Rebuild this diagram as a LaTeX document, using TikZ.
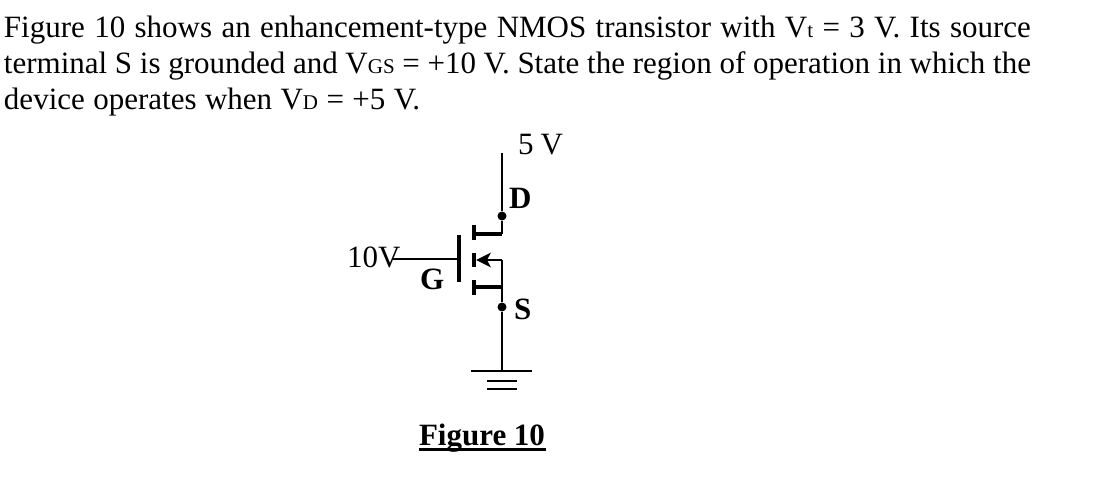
\documentclass[tikz,border=0pt]{standalone}
\usepackage{fontspec}
\setmainfont{Liberation Serif}
\newcommand{\lab}[1]{{\fontsize{21}{21}\selectfont #1}}
\begin{document}
\begin{tikzpicture}[x=1pt,y=-1pt,
  txt/.style={anchor=base west,inner sep=0pt,outer sep=0pt,font=\fontsize{31}{36}\selectfont},
  bold/.style={anchor=base west,inner sep=0pt,outer sep=0pt,font=\fontsize{31}{36}\selectfont\bfseries},
  wire/.style={line width=2pt,draw=black},
  thickwire/.style={line width=3.2pt,draw=black},
  bar/.style={line width=3.8pt,draw=black},
  pin/.style={circle,fill=black,inner sep=0pt,minimum size=9pt}]
\useasboundingbox (0,0) rectangle (1114,481);
\fill[white] (0,0) rectangle (1114,481);
\node[txt] (l1) at (4,38) {\hbox to 1027pt{Figure 10 shows an enhancement-type NMOS transistor with V\lab{t} = 3 V. Its source}};
\node[txt] (l2) at (4,74) {\hbox to 1027pt{terminal S is grounded and V\lab{GS} = +10 V. State the region of operation in which the}};
\node[txt] (l3) at (4,110) {\hbox to 416pt{device operates when V\lab{D} = +5 V.}};
\node[txt] (vdd) at (518,155) {\hbox to 45pt{5 V}};
\node[bold] (dl) at (509,209) {D};
\node[bold] (gl) at (420,290) {G};
\node[bold] (sl) at (514,319) {S};
\node[txt] (vg) at (347,267) {10V};
\node[bold] (cap) at (419,445) {Figure 10};
\coordinate (ul0) at (419,449.5);
\coordinate (ul1) at (546,449.5);
\draw[line width=3pt] (ul0) -- (ul1);
\coordinate (top) at (502,153);
\node[pin] (d) at (502,216) {};
\coordinate (dc) at (502,234);
\coordinate (db) at (474,234);
\coordinate (dt1) at (474,225);
\coordinate (dt2) at (474,240);
\coordinate (mt1) at (474,253);
\coordinate (mt2) at (474,267);
\coordinate (sb1) at (474,280);
\coordinate (sb2) at (474,295);
\coordinate (sb) at (474,287);
\coordinate (sc) at (502,287);
\coordinate (mc) at (502,260);
\coordinate (mtip) at (476,260);
\node[pin] (s) at (502,307) {};
\coordinate (g0) at (393,259.5);
\coordinate (g1) at (459,259.5);
\coordinate (gt) at (459,235);
\coordinate (gb) at (459,282);
\coordinate (gnd) at (502,371);
\coordinate (gl1) at (471,371);
\coordinate (gr1) at (532,371);
\coordinate (gl2) at (487,381);
\coordinate (gr2) at (517,381);
\coordinate (gl3) at (487,389);
\coordinate (gr3) at (517,389);
\draw[wire] (top) -- (d) -- (dc);
\draw[thickwire] (dc) -- (db);
\draw[bar] (dt1) -- (dt2);
\draw[bar] (mt1) -- (mt2);
\draw[bar] (sb1) -- (sb2);
\draw[thickwire] (sb) -- (sc);
\draw[wire] (mc) -- (sc) -- (s) -- (gnd);
\draw[wire] (mc) -- (484,260);
\fill (mtip) -- (491,252.5) -- (487,260) -- (491,267.5) -- cycle;
\draw[wire] (g0) -- (g1);
\draw[bar] (gt) -- (gb);
\draw[wire] (gl1) -- (gr1);
\draw[wire] (gl2) -- (gr2);
\draw[wire] (gl3) -- (gr3);
\end{tikzpicture}
\end{document}
